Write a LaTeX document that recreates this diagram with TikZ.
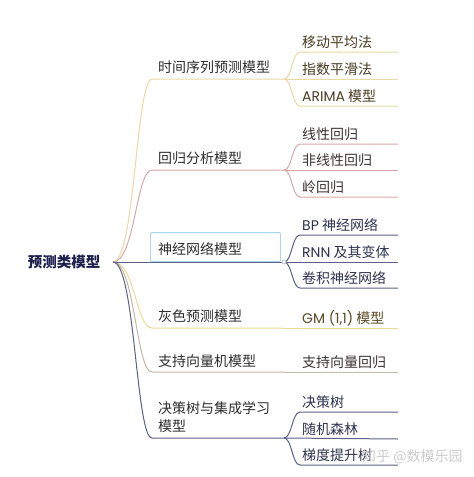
\documentclass[tikz,border=0pt]{standalone}
\usepackage{fontspec}
\setmainfont{Noto Sans CJK SC}
\newfontfamily\latfont{Poppins}
\definecolor{rootc}{HTML}{1C1F4C}
\definecolor{maintext}{HTML}{2E2E2E}
\definecolor{tsline}{HTML}{EAD9A2}
\definecolor{regline}{HTML}{D9A8A8}
\definecolor{nnline}{HTML}{5B6285}
\definecolor{gmline}{HTML}{E8DC98}
\definecolor{svmline}{HTML}{C4B6A8}
\definecolor{boxblue}{HTML}{A9D8EA}
\definecolor{tstext}{HTML}{4A3D22}
\definecolor{regtext}{HTML}{3C3434}
\definecolor{nntext}{HTML}{2E3350}
\definecolor{gmtext}{HTML}{5A4A22}
\begin{document}
\begin{tikzpicture}[x=1pt,y=-1pt,
    every node/.style={inner sep=0pt,anchor=base west,font=\fontsize{14}{18.5}\selectfont},
    link/.style={line width=1pt},
    topic/.style={text=maintext},
    leaf/.style={text=#1}]
  \useasboundingbox[fill=white] (0,0) rectangle (474,477);
  % root and shared points
  \node[anchor=center,font=\fontsize{14.5}{17}\selectfont\bfseries,text=rootc] (root) at (64,262) {预测类模型};
  \coordinate (r) at (113,262);
  \coordinate (elbow) at (152,262);
  \coordinate (fork) at (300,262);
  % first level ends
  \coordinate (ts) at (284,79);
  \coordinate (reg) at (284,170);
  \coordinate (nn) at (284,262);
  \coordinate (gm) at (284,328);
  \coordinate (svm) at (284,372);
  \coordinate (dt) at (284,438);
  % second level ends
  \coordinate (ma) at (398,52);
  \coordinate (es) at (398,79);
  \coordinate (ar) at (398,106);
  \coordinate (lin) at (398,144);
  \coordinate (nlin) at (398,170);
  \coordinate (ridge) at (398,197);
  \coordinate (bp) at (398,235);
  \coordinate (rnn) at (398,262);
  \coordinate (cnn) at (398,288);
  \coordinate (gm11) at (398,328);
  \coordinate (svr) at (398,372);
  \coordinate (tree) at (398,412);
  \coordinate (rf) at (398,439);
  \coordinate (gbt) at (398,465);

  \node[draw=boxblue,line width=0.8pt,rounded corners=1pt,anchor=south west,
        minimum width=130pt,minimum height=29pt] (nnframe) at (150,262) {};

  % first level
  \draw[link,tsline] (r) .. controls +(22,0) and +(-16,0) .. (elbow |- ts) -- (ts);
  \draw[link,regline] (r) .. controls +(22,0) and +(-16,0) .. (elbow |- reg) -- (reg);
  \draw[link,gmline] (r) .. controls +(22,0) and +(-16,0) .. (elbow |- gm) -- (gm);
  \draw[link,svmline] (r) .. controls +(22,0) and +(-16,0) .. (elbow |- svm) -- (svm);
  \draw[link,nnline] (r) .. controls +(22,0) and +(-16,0) .. (elbow |- dt) -- (dt);
  \draw[link,nnline] (r) -- (nn);

  % second level
  \draw[link,tsline] (ts) .. controls +(8,0) and +(-8,0) .. (fork |- ma) -- (ma);
  \draw[link,tsline] (ts) -- (es);
  \draw[link,tsline] (ts) .. controls +(8,0) and +(-8,0) .. (fork |- ar) -- (ar);
  \draw[link,regline] (reg) .. controls +(8,0) and +(-8,0) .. (fork |- lin) -- (lin);
  \draw[link,regline] (reg) -- (nlin);
  \draw[link,regline] (reg) .. controls +(8,0) and +(-8,0) .. (fork |- ridge) -- (ridge);
  \draw[link,nnline] (nn) .. controls +(8,0) and +(-8,0) .. (fork |- bp) -- (bp);
  \draw[link,nnline] (nn) -- (rnn);
  \draw[link,nnline] (nn) .. controls +(8,0) and +(-8,0) .. (fork |- cnn) -- (cnn);
  \draw[link,gmline] (gm) -- (gm11);
  \draw[link,svmline] (svm) -- (svr);
  \draw[link,nnline] (dt) .. controls +(8,0) and +(-8,0) .. (fork |- tree) -- (tree);
  \draw[link,nnline] (dt) -- (rf);
  \draw[link,nnline] (dt) .. controls +(8,0) and +(-8,0) .. (fork |- gbt) -- (gbt);
  \node[circle,draw=nnline!45,fill=white,line width=0.6pt,minimum size=4pt,anchor=center] (nnknob) at (nn) {};

  % labels
  \node[topic] (ts-t) at (158,72.5) {时间序列预测模型};
  \node[topic] (reg-t) at (158,163.5) {回归分析模型};
  \node[topic] (nn-t) at (158,254) {神经网络模型};
  \node[topic] (gm-t) at (158,321) {灰色预测模型};
  \node[topic] (svm-t) at (158,366) {支持向量机模型};
  \node[topic,align=left] (dt-t) at (158,431.5) {决策树与集成学习\\模型};

  \node[leaf=tstext] (ma-t) at (302,47) {移动平均法};
  \node[leaf=tstext] (es-t) at (302,74) {指数平滑法};
  \node[leaf=tstext] (ar-t) at (302,101) {{\latfont ARIMA} 模型};
  \node[leaf=regtext] (lin-t) at (302,139) {线性回归};
  \node[leaf=regtext] (nlin-t) at (302,165) {非线性回归};
  \node[leaf=regtext] (ridge-t) at (302,192) {岭回归};
  \node[leaf=nntext] (bp-t) at (302,230) {{\latfont BP} 神经网络};
  \node[leaf=nntext] (rnn-t) at (302,257) {{\latfont RNN} 及其变体};
  \node[leaf=nntext] (cnn-t) at (302,283) {卷积神经网络};
  \node[leaf=gmtext] (gm11-t) at (302,323) {{\latfont GM (1,1)} 模型};
  \node[leaf=regtext] (svr-t) at (302,367) {支持向量回归};
  \node[leaf=nntext] (tree-t) at (302,407) {决策树};
  \node[leaf=nntext] (rf-t) at (302,434) {随机森林};
  \node[leaf=nntext] (gbt-t) at (302,460) {梯度提升树};

  \node[text=gray!40] (mark) at (362,461) {知乎 @数模乐园};
\end{tikzpicture}
\end{document}
